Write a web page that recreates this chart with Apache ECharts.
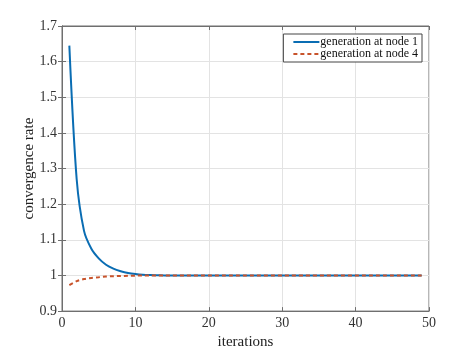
<!DOCTYPE html>
<html><head><meta charset="utf-8">
<script src="https://cdn.jsdelivr.net/npm/echarts@6/dist/echarts.min.js"></script>
<style>html,body{margin:0;padding:0;background:#fff}#c{width:474px;height:355px}</style>
</head><body><div id="c"></div>
<script>
const iterations = [];
for (let k = 1; k <= 49; k++) iterations.push(k);
const node1Values = [1.645, 1.27, 1.125, 1.075, 1.048, 1.030, 1.019, 1.012, 1.007, 1.004, 1.002, 1.001, 1.0005,
  1,1,1,1,1,1,1,1,1,1,1,1,1,1,1,1,1,1,1,1,1,1,1,1,1,1,1,1,1,1,1,1,1,1,1,1];
const node4Values = [0.973, 0.984, 0.990, 0.993, 0.995, 0.997, 0.998, 0.9985, 0.999, 0.9995, 1, 1, 1,
  1,1,1,1,1,1,1,1,1,1,1,1,1,1,1,1,1,1,1,1,1,1,1,1,1,1,1,1,1,1,1,1,1,1,1,1];
const seriesNames = ['generation at node 1', 'generation at node 4'];
const xTitle = 'iterations';
const yTitle = 'convergence rate';

const font = 'Liberation Serif';
const chart = echarts.init(document.getElementById('c'), null, {renderer: 'canvas'});
const axisColor = '#6f6f6f';
chart.setOption({
  animation: false,
  backgroundColor: '#fff',
  grid: {left: 62, right: 45, top: 26, bottom: 40, show: true, borderColor: axisColor, borderWidth: 1, backgroundColor: 'transparent'},
  legend: {
    orient: 'vertical', right: 52, top: 34, itemGap: 0, itemWidth: 26, itemHeight: 9,
    padding: [2, 4, 2, 9], borderColor: '#444', borderWidth: 1, backgroundColor: '#fff',
    itemStyle: {opacity: 0},
    textStyle: {fontFamily: font, fontSize: 12, color: '#111', padding: [0, 0, 0, -4], lineHeight: 10},
    data: seriesNames
  },
  xAxis: [{
    type: 'value', min: 0, max: 50, interval: 10,
    name: xTitle, nameLocation: 'middle', nameGap: 20,
    nameTextStyle: {fontFamily: font, fontSize: 15, color: '#222'},
    axisLine: {show: true, lineStyle: {color: axisColor}},
    axisTick: {inside: true, length: 4, lineStyle: {color: axisColor}},
    axisLabel: {fontFamily: font, fontSize: 14, color: '#333', margin: 5},
    splitLine: {show: true, lineStyle: {color: '#e3e3e3'}}
  }, {
    type: 'value', position: 'top', min: 0, max: 50, interval: 10,
    axisLine: {show: true, lineStyle: {color: axisColor}},
    axisTick: {inside: true, length: 4, lineStyle: {color: axisColor}},
    axisLabel: {show: false}, splitLine: {show: false}
  }],
  yAxis: [{
    type: 'value', min: 0.9, max: 1.7, interval: 0.1,
    name: yTitle, nameLocation: 'middle', nameGap: 25, nameRotate: 90, nameMoveOverlap: false,
    nameTextStyle: {fontFamily: font, fontSize: 15, color: '#222'},
    axisLine: {show: true, lineStyle: {color: axisColor}},
    axisTick: {inside: true, length: 4, lineStyle: {color: axisColor}},
    axisLabel: {fontFamily: font, fontSize: 14, color: '#333', margin: 5,
      formatter: v => String(+v.toFixed(1))},
    splitLine: {show: true, lineStyle: {color: '#e3e3e3'}}
  }, {
    type: 'value', position: 'right', min: 0.9, max: 1.7, interval: 0.1,
    axisLine: {show: true, lineStyle: {color: axisColor}},
    axisTick: {inside: true, length: 4, lineStyle: {color: axisColor}},
    axisLabel: {show: false}, splitLine: {show: false}
  }],
  series: [{
    name: seriesNames[0], type: 'line', symbol: 'none', smooth: 0.3,
    data: iterations.map((k, i) => [k, node1Values[i]]),
    lineStyle: {color: '#0a6db3', width: 2}, itemStyle: {color: '#0a6db3'}
  }, {
    name: seriesNames[1], type: 'line', symbol: 'none', smooth: 0.3,
    data: iterations.map((k, i) => [k, node4Values[i]]),
    lineStyle: {color: '#c8532b', width: 2, type: [4, 3]}, itemStyle: {color: '#c8532b'}
  }]
});
</script>
</body></html>
